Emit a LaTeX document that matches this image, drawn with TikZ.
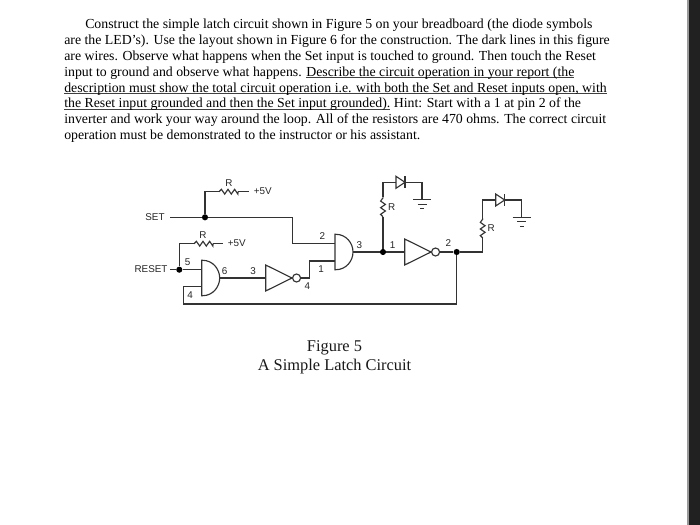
\documentclass[tikz,border=0pt]{standalone}
\usepackage{fontspec}
\setmainfont{Liberation Serif}
\newfontfamily\lblfont{Liberation Sans}
\usetikzlibrary{calc}
\newsavebox{\ulbox}
\newcommand{\ulined}[1]{\sbox{\ulbox}{#1}\rlap{\textcolor{black!75}{\rule[-1.6pt]{\wd\ulbox}{0.6pt}}}\usebox{\ulbox}}
\tikzset{
  x=0.75pt,y=-0.75pt,
  wire/.style={draw=black!80,line width=0.85pt,line join=miter},
  para/.style={anchor=base west,inner sep=0pt,font=\fontsize{10.36pt}{12pt}\selectfont,text=black},
  lbl/.style={inner sep=0pt,font=\lblfont\fontsize{7.4pt}{8pt}\selectfont,text=black!85},
  captxt/.style={inner sep=0pt,font=\fontsize{12.3pt}{15pt}\selectfont,text=black!90},
  junction/.style={circle,fill=black,inner sep=0pt,minimum size=4.6pt},
}
\newcommand{\andgate}[3]{% name, left x, centre y
  \draw[wire] (#2,#3-17.7) -- (#2,#3+17.7) -- (#2+1,#3+17.7)
    .. controls (#2+11,#3+17.7) and (#2+18,#3+9) .. (#2+18,#3)
    .. controls (#2+18,#3-9) and (#2+11,#3-17.7) .. (#2+1,#3-17.7) -- cycle;
  \coordinate (#1out) at (#2+18,#3);
}
\newcommand{\invgate}[3]{% name, left x, centre y
  \draw[wire] (#2,#3-13) -- (#2,#3+13) -- (#2+26.3,#3) -- cycle;
  \node[draw=black!80,line width=0.85pt,circle,inner sep=0pt,minimum size=6pt,anchor=west] (#1b) at (#2+26.3,#3) {};
  \coordinate (#1in) at (#2,#3);
}
\newcommand{\hres}[2]{% left end x, y
  \draw[wire] (#1,#2) -- ++(2.4,-2.4) -- ++(3.3,4.8) -- ++(3.3,-4.8) -- ++(3.3,4.8) -- ++(3.3,-4.8) -- ++(3.3,4.8) -- (#1+19,#2);
}
\newcommand{\vres}[2]{% bottom end x, y
  \draw[wire] (#1,#2) -- ++(-2.4,-2.4) -- ++(4.8,-3.3) -- ++(-4.8,-3.3) -- ++(4.8,-3.3) -- ++(-4.8,-3.3) -- ++(2.4,-3.3) -- (#1,#2-19.4);
}
\newcommand{\led}[2]{% left x, y
  \draw[wire] (#1,#2-6) -- (#1,#2+6) -- (#1+9,#2) -- cycle;
  \draw[wire] (#1+9,#2-6) -- (#1+9,#2+6);
}
\newcommand{\gnd}[2]{% x, y
  \draw[wire] (#1-9,#2) -- (#1+9,#2);
  \draw[wire] (#1-4.5,#2+4.4) -- (#1+4.5,#2+4.4);
  \draw[wire] (#1-1.8,#2+9) -- (#1+1.8,#2+9);
}
\begin{document}
\begin{tikzpicture}
\useasboundingbox (0,0) rectangle (700,525);
\fill[white] (0,0) rectangle (700,525);
\fill[black!40] (687,0) rectangle (688.5,525);
\fill[black!87] (688.5,0) rectangle (700,525);
% paragraph
\node[para] (p1) at (85,28) {Construct the simple latch circuit shown in Figure 5 on your breadboard (the diode symbols};
\node[para] (p2) at (64,44) {are the LED’s). Use the layout shown in Figure 6 for the construction. The dark lines in this figure};
\node[para] (p3) at (64,60) {are wires. Observe what happens when the Set input is touched to ground. Then touch the Reset};
\node[para] (p4) at (64,76) {input to ground and observe what happens. \ulined{Describe the circuit operation in your report (the}};
\node[para] (p5) at (64,92) {\ulined{description must show the total circuit operation i.e. with both the Set and Reset inputs open, with}};
\node[para] (p6) at (64,107.5) {\ulined{the Reset input grounded and then the Set input grounded).} Hint: Start with a 1 at pin 2 of the};
\node[para] (p7) at (64,123.5) {inverter and work your way around the loop. All of the resistors are 470 ohms. The correct circuit};
\node[para] (p8) at (64,139.5) {operation must be demonstrated to the instructor or his assistant.};
% caption
\node[captxt] (c1) at (334.5,347.5) {Figure 5};
\node[captxt] (c2) at (334.5,366.5) {A Simple Latch Circuit};
% gates
\andgate{gA}{335}{252}
\andgate{gB}{201.7}{278}
\invgate{iA}{404.7}{252}
\invgate{iB}{265.7}{278}
% labels
\node[lbl] (set) at (155,217) {SET};
\node[lbl] (reset) at (151,269.5) {RESET};
\coordinate (setend) at (170,217.3);
\coordinate (resetend) at (170,269.7);
\node[junction] (j1) at (205,217.3) {};
\node[junction] (j2) at (179.3,269.7) {};
\node[junction] (j3) at (383,252) {};
\node[junction] (j4) at (456.7,252) {};
% SET path
\draw[wire] (setend) -- (j1) -- (292.3,217.3) -- (292.3,243.7) -- (335,243.7);
\draw[wire] (j1) -- (205,191.7) -- (219,191.7);
\hres{219}{191.7}
\draw[wire] (238,191.7) -- (249,191.7);
\node[lbl] (v1) at (262.7,191) {+5V};
\node[lbl] (r1) at (229,183) {R};
% RESET path
\draw[wire] (resetend) -- (j2) -- (201.7,269.7);
\draw[wire] (j2) -- (179.3,243.7) -- (194,243.7);
\hres{194}{243.7}
\draw[wire] (213,243.7) -- (223,243.7);
\node[lbl] (v2) at (236.7,243) {+5V};
\node[lbl] (r2) at (203,235) {R};
% between gates
\draw[wire] (gBout) -- (iBin);
\draw[wire] (iBb.east) -- (309.3,278) -- (309.3,261) -- (335,261);
\draw[wire] (gAout) -- (j3) -- (iAin);
\draw[wire] (iAb.east) -- (j4) -- (482.7,252) -- (482.7,238);
% feedback
\draw[wire] (j4) -- (456.7,304) -- (183.3,304) -- (183.3,286.7) -- (201.7,286.7);
% upper LED branch
\draw[wire] (j3) -- (383,216.7);
\vres{383}{216.7}
\draw[wire] (383,197.3) -- (383,182.3) -- (396,182.3);
\led{396}{182.3}
\draw[wire] (405,182.3) -- (422,182.3) -- (422,199.7);
\gnd{422}{199.7}
\node[lbl] (r3) at (391.7,206.7) {R};
% right LED branch
\vres{482.7}{238}
\draw[wire] (482.7,218.6) -- (482.7,200) -- (495.7,200);
\led{495.7}{200}
\draw[wire] (504.7,200) -- (521.7,200) -- (521.7,217.3);
\gnd{521.7}{217.3}
\node[lbl] (r4) at (491.3,228.3) {R};
% pin numbers
\node[lbl] (n5) at (187.7,262) {5};
\node[lbl] (n6) at (224.7,271) {6};
\node[lbl] (n3) at (253,271) {3};
\node[lbl] (n4) at (307.3,286.3) {4};
\node[lbl] (n1) at (321,269) {1};
\node[lbl] (n2) at (322.3,236.3) {2};
\node[lbl] (n4b) at (190,295) {4};
\node[lbl] (n3b) at (359.3,244.7) {3};
\node[lbl] (n1b) at (392.7,245) {1};
\node[lbl] (n2b) at (448.3,242.7) {2};
\end{tikzpicture}
\end{document}
